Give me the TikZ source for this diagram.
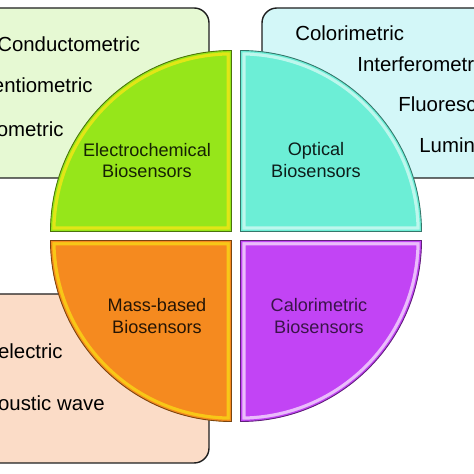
\documentclass[tikz,border=0pt]{standalone}
\usepackage{fontspec}
\setmainfont{Liberation Sans}
\usepackage{tikz}
\definecolor{cgreen}{HTML}{96E61A}
\definecolor{cteal}{HTML}{6CEED6}
\definecolor{corange}{HTML}{F58A1F}
\definecolor{cpurple}{HTML}{C244F5}
\definecolor{boxgreen}{HTML}{E6F9D3}
\definecolor{boxcyan}{HTML}{D3F7F8}
\definecolor{boxpeach}{HTML}{FBDCC7}
\definecolor{cink}{HTML}{1E1E1E}
\tikzset{
  panel/.style={rounded corners=8.5pt,draw=cink,line width=0.8pt},
  item/.style={font=\fontsize{11.6}{14}\selectfont,text=black,inner sep=0pt},
  qlbl/.style={font=\fontsize{10.3}{12.2}\selectfont,align=center,inner sep=0pt},
}

\begin{document}
\begin{tikzpicture}
\useasboundingbox (0,0) rectangle (9.48,9.48);
\clip (0,0) rectangle (9.48,9.48);

% ================= PANELS (behind) =================
\draw[panel,fill=boxgreen] (-1,5.92) rectangle (4.18,9.32);
\draw[panel,fill=boxcyan] (5.24,5.92) rectangle (10.5,9.32);
\draw[panel,fill=boxpeach] (-1,0.22) rectangle (4.18,3.60);

% electrochemical types
\node[item,anchor=base west] (cond) at (-0.06,8.44) {Conductometric};
\node[item,anchor=base east] (pot) at (1.86,7.62) {Potentiometric};
\node[item,anchor=base east] (amp) at (1.28,6.74) {Amperometric};
% optical types
\node[item,anchor=base west] (col) at (5.90,8.66) {Colorimetric};
\node[item,anchor=base west] (intf) at (7.14,8.04) {Interferometric};
\node[item,anchor=base west] (fluo) at (7.96,7.24) {Fluorescence};
\node[item,anchor=base west] (lumi) at (8.38,6.42) {Luminescence};
% mass-based types
\node[item,anchor=base east] (piezo) at (1.26,2.30) {Piezoelectric};
\node[item,anchor=base east] (saw) at (2.10,1.26) {Surface acoustic wave};

% ================= QUADRANTS =================
\coordinate (c) at (4.72,4.76);
\foreach \a/\fc/\hc/\sx/\sy in {90/cgreen/yellow!70!cgreen/-1/1,
                               0/cteal/cteal!45!white/1/1,
                               180/corange/yellow!55!corange/-1/-1,
                               270/cpurple/cpurple!35!white/1/-1}{
  \def\qpath{([shift={(\sx*0.09,\sy*0.09)}]c) -- ++(\a:3.62)
             arc[start angle=\a,delta angle=90,radius=3.62] -- cycle}
  \fill[\fc] \qpath;
  \begin{scope}
    \clip \qpath;
    \draw[\hc,line width=0.2cm] \qpath;
    \draw[\fc,line width=0.07cm] \qpath;
  \end{scope}
  \draw[\fc!50!black,line width=0.5pt] \qpath;
}

\node[qlbl,text=cgreen!15!black] (elec) at (2.94,6.27) {Electrochemical\\Biosensors};
\node[qlbl,text=cteal!12!black] (opt) at (6.32,6.28) {Optical\\Biosensors};
\node[qlbl,text=corange!15!black] (mass) at (3.14,3.16) {Mass-based\\Biosensors};
\node[qlbl,text=cpurple!30!black] (calo) at (6.38,3.16) {Calorimetric\\Biosensors};

\end{tikzpicture}
\end{document}
